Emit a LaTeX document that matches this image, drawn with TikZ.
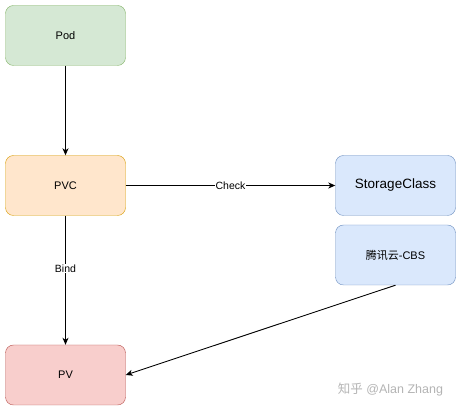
\documentclass[tikz,border=0pt]{standalone}
\usepackage{fontspec}
\setmainfont{Liberation Sans}
\newfontfamily\cjk{Noto Sans CJK SC}
\usepackage{tikz}
\usetikzlibrary{positioning,arrows,arrows.meta,shapes}

\definecolor{podfill}{HTML}{D5E8D4}
\definecolor{poddraw}{HTML}{82B366}
\definecolor{pvcfill}{HTML}{FFE6CC}
\definecolor{pvcdraw}{HTML}{D79B00}
\definecolor{pvfill}{HTML}{F8CECC}
\definecolor{pvdraw}{HTML}{B85450}
\definecolor{scfill}{HTML}{DAE8FC}
\definecolor{scdraw}{HTML}{6C8EBF}
\definecolor{markgray}{HTML}{B4B4B4}

\begin{document}
\begin{tikzpicture}[x=1pt,y=-1pt]
	\tikzset{box/.style={draw,rounded corners=8pt,minimum width=120pt,minimum height=60pt,inner sep=0pt,font=\fontsize{11}{13}\selectfont}}
	\useasboundingbox (0,0) rectangle (461,411);
	\node[box,fill=podfill,draw=poddraw] (pod) at (65.5,35.5) {Pod};
	\node[box,fill=pvcfill,draw=pvcdraw] (pvc) at (65.5,185.5) {PVC};
	\node[box,fill=pvfill,draw=pvdraw] (pv) at (65.5,375) {PV};
	\node[box,fill=scfill,draw=scdraw,font=\fontsize{13.5}{15}\selectfont] (sc) at (395.5,185.5) {StorageClass};
	\node[box,fill=scfill,draw=scdraw] (cbs) at (395.5,255) {{\cjk 腾讯云}-CBS};
	\path[-{Stealth[length=7pt,width=6pt,inset=2pt]},line width=0.9pt,every node/.style={fill=white,inner sep=1pt,font=\fontsize{10.5}{12}\selectfont}]
		(pod) edge (pvc)
		(pvc) edge node {Check} (sc)
		(pvc) edge node[pos=0.41] {Bind} (pv)
		(cbs.south) edge (pv.east);

	%% watermark
	\node[text=markgray,font=\fontsize{12.5}{14}\selectfont] (mark) at (390.5,390) {{\cjk 知乎} @Alan Zhang};
\end{tikzpicture}
\end{document}
